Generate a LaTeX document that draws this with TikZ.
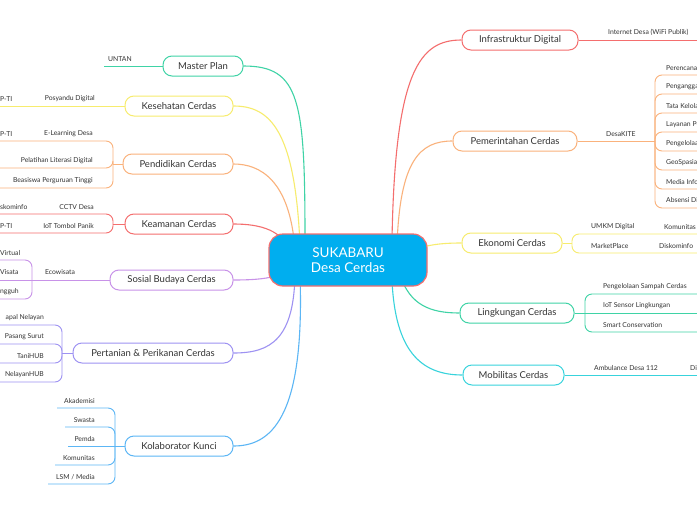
\documentclass[tikz,border=0pt]{standalone}
\usepackage{fontspec}
\setmainfont{Lato}
\definecolor{cteal}{HTML}{3FD3A6}
\definecolor{cyel}{HTML}{F7EC6E}
\definecolor{corg}{HTML}{FAB27C}
\definecolor{cred}{HTML}{F46E6E}
\definecolor{cpur}{HTML}{C892E8}
\definecolor{cvio}{HTML}{9E92F2}
\definecolor{cblu}{HTML}{5CB6F5}
\definecolor{ccya}{HTML}{38D3DC}
\definecolor{ccen}{HTML}{00AEEF}
\definecolor{ctxt}{HTML}{333333}
\begin{document}
\begin{tikzpicture}[x=1pt,y=-1pt,
  mainbox/.style={draw=#1,line width=1pt,rounded corners=9pt,fill=white,minimum height=20pt,inner xsep=0pt,font=\fontsize{9.5}{10}\selectfont,text=ctxt},
  lf/.style={font=\fontsize{6.8}{7}\selectfont,text=ctxt,inner sep=1pt},
  br/.style={draw=#1,line width=0.9pt,rounded corners=7pt},
  cn/.style={draw=#1,line width=1.1pt}]
\useasboundingbox (0,0) rectangle (697,520);
\clip (0,0) rectangle (697,520);
\fill[white] (0,0) rectangle (697,520);
\node[mainbox=cteal,minimum width=80pt] (mp) at (203,66) {Master Plan};
\node[mainbox=cyel,minimum width=108pt] (kes) at (179,106) {Kesehatan Cerdas};
\node[mainbox=corg,minimum width=110pt] (pen) at (178,164) {Pendidikan Cerdas};
\node[mainbox=cred,minimum width=108pt] (kea) at (179,224) {Keamanan Cerdas};
\node[mainbox=cpur,minimum width=123pt] (sos) at (171.5,280) {Sosial Budaya Cerdas};
\node[mainbox=cvio,minimum width=160pt] (per) at (153,353) {Pertanian \& Perikanan Cerdas};
\node[mainbox=cblu,minimum width=108pt] (kol) at (179,446) {Kolaborator Kunci};
\node[mainbox=cred,minimum width=116pt] (inf) at (520,40) {Infrastruktur Digital};
\node[mainbox=corg,minimum width=124pt] (pem) at (515,141) {Pemerintahan Cerdas};
\node[mainbox=cyel,minimum width=100pt] (eko) at (512,243) {Ekonomi Cerdas};
\node[mainbox=cteal,minimum width=114pt] (lin) at (517,313) {Lingkungan Cerdas};
\node[mainbox=ccya,minimum width=101pt] (mob) at (513.5,375) {Mobilitas Cerdas};
\draw[cn=cteal] (305,240) .. controls (305,100) and (300,66) .. (mp.east);
\draw[cn=cyel] (300,245) .. controls (295,130) and (270,106) .. (kes.east);
\draw[cn=corg] (295,250) .. controls (290,180) and (260,164) .. (pen.east);
\draw[cn=cred] (290,255) .. controls (285,230) and (260,224) .. (kea.east);
\draw[cn=cpur] (290,265) .. controls (285,278) and (260,280) .. (sos.east);
\draw[cn=cvio] (295,270) .. controls (295,340) and (270,353) .. (per.east);
\draw[cn=cblu] (300,275) .. controls (305,420) and (270,446) .. (kol.east);
\draw[cn=cred] (392,240) .. controls (395,70) and (420,40) .. (inf.west);
\draw[cn=corg] (397,245) .. controls (400,160) and (420,141) .. (pem.west);
\draw[cn=cyel] (405,255) .. controls (420,245) and (440,243) .. (eko.west);
\draw[cn=cteal] (400,275) .. controls (410,305) and (430,313) .. (lin.west);
\draw[cn=ccya] (392,280) .. controls (395,350) and (420,375) .. (mob.west);
\node[draw=cred,line width=1.2pt,fill=ccen,rounded corners=14pt,minimum width=158pt,minimum height=52pt,align=center,text=white,font=\fontsize{13.5}{15.5}\selectfont] (c) at (348,260) {SUKABARU\\Desa Cerdas};
% Master Plan
\draw[br=cteal] (mp.west) -- (104,66);
\node[lf,anchor=south west] (t1) at (107,63) {UNTAN};
% Kesehatan
\draw[br=cyel] (kes.west) -- (0,106);
\node[lf,anchor=south east] (t2) at (96,103) {Posyandu Digital};
\node[lf,anchor=south west] (t3) at (-1,103) {P-TI};
% Pendidikan
\draw[br=corg] (pen.west) -- (113,164);
\draw[br=corg] (113,164) -- (113,141) -- (0,141);
\draw[br=corg] (113,164) -- (113,168) -- (0,168);
\draw[br=corg] (113,164) -- (113,188) -- (0,188);
\node[lf,anchor=south east] at (94,138) {E-Learning Desa};
\node[lf,anchor=south west] at (-1,138) {P-TI};
\node[lf,anchor=south east] at (94,165) {Pelatihan Literasi Digital};
\node[lf,anchor=south east] at (94,185) {Beasiswa Perguruan Tinggi};
% Keamanan
\draw[br=cred] (kea.west) -- (113,224);
\draw[br=cred] (113,224) -- (113,214) -- (0,214);
\draw[br=cred] (113,224) -- (113,233) -- (0,233);
\node[lf,anchor=south east] at (95,211) {CCTV Desa};
\node[lf,anchor=south west] at (-1,211) {skominfo};
\node[lf,anchor=south east] at (95,230) {IoT Tombol Panik};
\node[lf,anchor=south west] at (-1,230) {P-TI};
% Sosial
\draw[br=cpur] (sos.west) -- (32,280);
\node[lf,anchor=south west] at (44,276) {Ecowisata};
\draw[br=cpur] (32,280) -- (32,260) -- (0,260);
\draw[br=cpur] (32,280) -- (0,280);
\draw[br=cpur] (32,280) -- (32,299) -- (0,299);
\node[lf,anchor=south west] at (-1,257) {Virtual};
\node[lf,anchor=south west] at (-1,276) {Visata};
\node[lf,anchor=south west] at (-1,296) {ngguh};
% Pertanian
\draw[br=cvio] (per.west) -- (62,353);
\draw[br=cvio] (62,353) -- (62,325) -- (0,325);
\draw[br=cvio] (62,353) -- (62,344) -- (0,344);
\draw[br=cvio] (62,353) -- (62,363) -- (0,363);
\draw[br=cvio] (62,353) -- (62,382) -- (0,382);
\node[lf,anchor=south east] at (45,322) {apal Nelayan};
\node[lf,anchor=south east] at (45,341) {Pasang Surut};
\node[lf,anchor=south east] at (45,360) {TaniHUB};
\node[lf,anchor=south east] at (45,379) {NelayanHUB};
% Kolaborator
\draw[br=cblu] (kol.west) -- (115,446);
\draw[br=cblu] (115,446) -- (115,408) -- (57,408);
\draw[br=cblu] (115,446) -- (115,427) -- (65,427);
\draw[br=cblu] (115,446) -- (68,446);
\draw[br=cblu] (115,446) -- (115,465) -- (55,465);
\draw[br=cblu] (115,446) -- (115,484) -- (48,484);
\node[lf,anchor=south east] at (96,405) {Akademisi};
\node[lf,anchor=south east] at (96,424) {Swasta};
\node[lf,anchor=south east] at (96,443) {Pemda};
\node[lf,anchor=south east] at (96,462) {Komunitas};
\node[lf,anchor=south east] at (96,481) {LSM / Media};
% Infrastruktur
\draw[br=cred] (inf.east) -- (700,40);
\node[lf,anchor=south west] at (607,37) {Internet Desa (WiFi Publik)};
% Pemerintahan
\draw[br=corg] (pem.east) -- (655,141);
\node[lf,anchor=south west] at (605,138) {DesaKITE};
\foreach \y/\t in {75/Perencanaan,94/Penganggaran,113/Tata Kelola,132/Layanan Publik,151/Pengelolaan,170/GeoSpasial,189/Media Informasi,208/Absensi Digital}{
  \draw[br=corg] (655,141) -- (655,\y) -- (700,\y);
  \node[lf,anchor=south west] at (665,\y-3) {\t};
}
% Ekonomi
\draw[br=cyel] (eko.east) -- (572,243);
\draw[br=cyel] (572,243) -- (572,234) -- (700,234);
\draw[br=cyel] (572,243) -- (572,253) -- (700,253);
\node[lf,anchor=south west] at (590,231) {UMKM Digital};
\node[lf,anchor=south west] at (663,231) {Komunitas};
\node[lf,anchor=south west] at (590,250) {MarketPlace};
\node[lf,anchor=south west] at (658,250) {Diskominfo};
% Lingkungan
\draw[br=cteal] (lin.east) -- (585,313);
\draw[br=cteal] (585,313) -- (585,294) -- (700,294);
\draw[br=cteal] (585,313) -- (700,313);
\draw[br=cteal] (585,313) -- (585,332) -- (700,332);
\node[lf,anchor=south west] at (602,291) {Pengelolaan Sampah Cerdas};
\node[lf,anchor=south west] at (602,310) {IoT Sensor Lingkungan};
\node[lf,anchor=south west] at (602,329) {Smart Conservation};
% Mobilitas
\draw[br=ccya] (mob.east) -- (700,375);
\node[lf,anchor=south west] at (593,372) {Ambulance Desa 112};
\node[lf,anchor=south west] at (689,372) {Dishub};
\end{tikzpicture}
\end{document}
